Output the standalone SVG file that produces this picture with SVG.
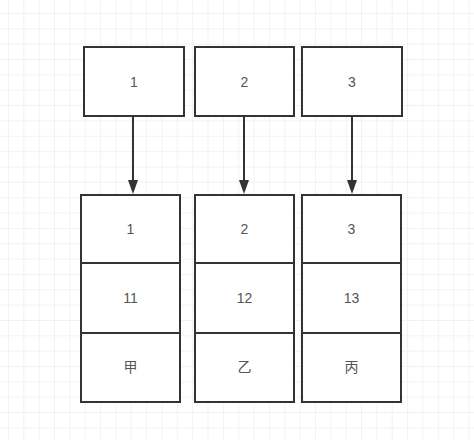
<svg xmlns="http://www.w3.org/2000/svg" width="474" height="440" viewBox="0 0 474 440">
<defs>
<pattern id="grid" x="8" y="13" width="15.35" height="15.35" patternUnits="userSpaceOnUse">
<path d="M0 0H15.35M0 0V15.35" fill="none" stroke="#e6e6e6" stroke-width="1"/>
</pattern>
</defs>
<style>
.box{fill:#fff;stroke:#333;stroke-width:2}
.t{font-family:"Liberation Sans","Noto Sans CJK SC",sans-serif;font-size:14px;fill:#555;text-anchor:middle;dominant-baseline:central}
.c{stroke:#333;stroke-width:2;fill:none}
.h{fill:#333}
</style>
<rect width="474" height="440" fill="#fff"/>
<rect width="474" height="440" fill="url(#grid)"/>
<g id="connectors">
<line class="c" x1="133" y1="116" x2="133" y2="182"/>
<path class="h" d="M128 180 L133 194 L138 180 Z"/>
<line class="c" x1="244" y1="116" x2="244" y2="182"/>
<path class="h" d="M239 180 L244 194 L249 180 Z"/>
<line class="c" x1="352" y1="116" x2="352" y2="182"/>
<path class="h" d="M347 180 L352 194 L357 180 Z"/>
</g>
<g id="top1"><rect class="box" x="84" y="47" width="100" height="69"/><text class="t" x="134" y="82">1</text></g>
<g id="top2"><rect class="box" x="195" y="47" width="99" height="69"/><text class="t" x="244.5" y="82">2</text></g>
<g id="top3"><rect class="box" x="302" y="47" width="100" height="69"/><text class="t" x="352" y="82">3</text></g>
<g id="b1r1"><rect class="box" x="81" y="195" width="99" height="68"/><text class="t" x="130.5" y="229">1</text></g>
<g id="b1r2"><rect class="box" x="81" y="263" width="99" height="70"/><text class="t" x="130.5" y="298">11</text></g>
<g id="b1r3"><rect class="box" x="81" y="333" width="99" height="69"/><text class="t" x="130.5" y="367">甲</text></g>
<g id="b2r1"><rect class="box" x="195" y="195" width="99" height="68"/><text class="t" x="244.5" y="229">2</text></g>
<g id="b2r2"><rect class="box" x="195" y="263" width="99" height="70"/><text class="t" x="244.5" y="298">12</text></g>
<g id="b2r3"><rect class="box" x="195" y="333" width="99" height="69"/><text class="t" x="244.5" y="367">乙</text></g>
<g id="b3r1"><rect class="box" x="302" y="195" width="99" height="68"/><text class="t" x="351.5" y="229">3</text></g>
<g id="b3r2"><rect class="box" x="302" y="263" width="99" height="70"/><text class="t" x="351.5" y="298">13</text></g>
<g id="b3r3"><rect class="box" x="302" y="333" width="99" height="69"/><text class="t" x="351.5" y="367">丙</text></g>
</svg>
